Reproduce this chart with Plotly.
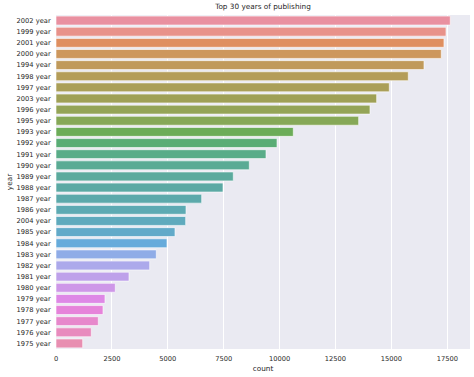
import math
import colorsys
import plotly.graph_objects as go

# ---- data ----
years = ["2002 year", "1999 year", "2001 year", "2000 year", "1994 year", "1998 year",
         "1997 year", "2003 year", "1996 year", "1995 year", "1993 year", "1992 year",
         "1991 year", "1990 year", "1989 year", "1988 year", "1987 year", "1986 year",
         "2004 year", "1985 year", "1984 year", "1983 year", "1982 year", "1981 year",
         "1980 year", "1979 year", "1978 year", "1977 year", "1976 year", "1975 year"]
counts = [17634, 17442, 17352, 17232, 16458, 15756, 14907, 14342, 14043, 13537,
          10613, 9884, 9392, 8646, 7930, 7469, 6516, 5814, 5800, 5322,
          4964, 4486, 4190, 3265, 2652, 2191, 2102, 1892, 1579, 1194]
x_ticks = [0, 2500, 5000, 7500, 10000, 12500, 15000, 17500]

# ---- husl palette (seaborn style) ----
M = [[3.2406, -1.5372, -0.4986], [-0.9689, 1.8758, 0.0415], [0.0557, -0.2040, 1.0570]]
REF_Y, REF_U, REF_V = 1.0, 0.19784, 0.46834
LAB_E, LAB_K = 0.008856, 903.3


def max_chroma(L, H):
    hrad = math.radians(H)
    sinH, cosH = math.sin(hrad), math.cos(hrad)
    sub1 = (L + 16) ** 3 / 1560896.0
    sub2 = sub1 if sub1 > LAB_E else L / LAB_K
    result = float("inf")
    for m1, m2, m3 in M:
        top = (0.99915 * m1 + 1.05122 * m2 + 1.14460 * m3) * sub2
        rbottom = 0.86330 * m3 - 0.17266 * m2
        lbottom = 0.12949 * m3 - 0.38848 * m1
        bottom = (rbottom * sinH + lbottom * cosH) * sub2
        for t in (0.0, 1.0):
            C = L * (top - 1.05122 * t) / (bottom + 0.17266 * sinH * t)
            if 0.0 < C < result:
                result = C
    return result


def f_inv(t):
    return t ** 3 if t ** 3 > LAB_E else (116 * t - 16) / LAB_K


def from_linear(c):
    return 12.92 * c if c <= 0.0031308 else 1.055 * c ** (1 / 2.4) - 0.055


def husl_to_rgb(h, s, l):
    C = max_chroma(l, h) / 100.0 * s
    hrad = math.radians(h)
    U, V = math.cos(hrad) * C, math.sin(hrad) * C
    varY = f_inv((l + 16) / 116.0)
    varU = U / (13.0 * l) + REF_U
    varV = V / (13.0 * l) + REF_V
    Y = varY * REF_Y
    X = 0 - (9 * Y * varU) / ((varU - 4.0) * varV - varU * varV)
    Z = (9.0 * Y - (15.0 * varV * Y) - (varV * X)) / (3.0 * varV)
    rgb = [from_linear(r[0] * X + r[1] * Y + r[2] * Z) for r in M]
    return [min(max(c, 0.0), 1.0) for c in rgb]


def palette(n, h=0.01, s=0.9, l=0.65, sat=0.75, wash=0.12):
    out = []
    for i in range(n):
        hue = ((i / n) + h) % 1 * 359
        r, g, b = husl_to_rgb(hue, s * 99, l * 99)
        hh, ll, ss = colorsys.rgb_to_hls(r, g, b)
        r, g, b = colorsys.hls_to_rgb(hh, ll, ss * sat)
        r, g, b = [c + (1 - c) * wash for c in (r, g, b)]
        out.append("rgb(%d,%d,%d)" % (round(r * 255), round(g * 255), round(b * 255)))
    return out


colors = palette(len(years))

fig = go.Figure(go.Bar(
    x=counts, y=years, orientation="h",
    marker=dict(color=colors, line=dict(width=0.6, color="white")),
    hoverinfo="skip",
))

font_family = "DejaVu Sans"
fig.update_layout(
    template="none",
    width=474, height=377,
    margin=dict(l=56, r=4, t=15, b=28, autoexpand=False),
    paper_bgcolor="white",
    plot_bgcolor="#EAEAF2",
    bargap=0.2,
    showlegend=False,
    hovermode=False,
    font=dict(family=font_family, size=6.7, color="#262626"),
    title=dict(text="Top 30 years of publishing", x=0.5, xanchor="center",
               xref="paper", y=1, yref="container", yanchor="top", pad=dict(t=4),
               font=dict(size=7.3, color="#262626")),
)
fig.update_xaxes(
    automargin=False,
    range=[0, 18516], tickvals=x_ticks, ticktext=[str(v) for v in x_ticks],
    showgrid=True, gridcolor="white", gridwidth=1, zeroline=False,
    showline=False, ticks="outside", ticklen=3, tickcolor="rgba(0,0,0,0)",
    title=dict(text="count", font=dict(size=7.3), standoff=3),
    tickfont=dict(size=6.7),
)
fig.update_yaxes(
    automargin=False,
    categoryorder="array", categoryarray=years, autorange="reversed",
    showgrid=False, zeroline=False, showline=False,
    ticks="outside", ticklen=3, tickcolor="rgba(0,0,0,0)",
    title=dict(text="year", font=dict(size=7.3), standoff=3),
    tickfont=dict(size=6.7),
)

fig.write_html(
    "out.html",
    config={"displayModeBar": False},
    post_script="document.body.style.margin='0';document.body.style.overflow='hidden';",
)
